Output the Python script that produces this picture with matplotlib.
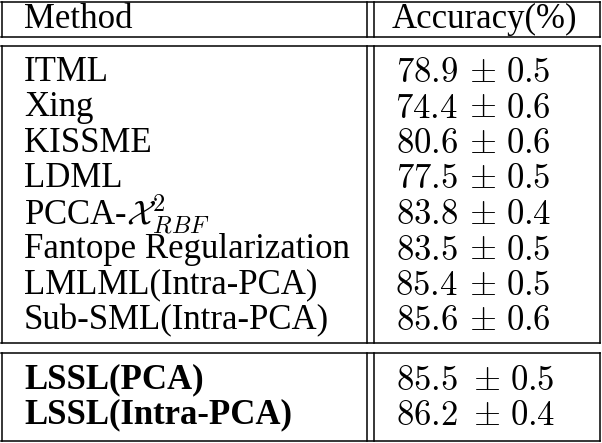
import matplotlib
matplotlib.use("Agg")
import matplotlib.pyplot as plt

methods = ["ITML", "Xing", "KISSME", "LDML", r"PCCA-$\mathcal{X}^2_{RBF}$",
           "Fantope Regularization", "LMLML(Intra-PCA)", "Sub-SML(Intra-PCA)"]
means = ["78.9", "74.4", "80.6", "77.5", "83.8", "83.5", "85.4", "85.6"]
stds = ["0.5", "0.6", "0.6", "0.5", "0.4", "0.5", "0.5", "0.6"]
ours = ["LSSL(PCA)", "LSSL(Intra-PCA)"]
ours_means = ["85.5", "86.2"]
ours_stds = ["0.5", "0.4"]
ours_bold_val = [False, True]

plt.rcParams['mathtext.fontset'] = 'cm'
fig = plt.figure(figsize=(6.02, 4.43), dpi=100)
ax = fig.add_axes([0, 0, 1, 1])
ax.set_xlim(0, 602); ax.set_ylim(443, 0); ax.axis('off')
F = 'Liberation Serif'
fs = 25
lw = 1.1

def hline(y): ax.plot([1, 600], [y, y], color='k', lw=lw)
def vlines(y0, y1):
    for x in (1.5, 367, 374, 600):
        ax.plot([x, x], [y0, y1], color='k', lw=lw)

def num(s, bold):
    return r"$\mathbf{%s}$" % s if bold else r"$%s$" % s

hline(1.5); hline(37); vlines(1.5, 37)
ax.text(24, 19, "Method", fontsize=fs, family=F, va='center')
ax.text(484, 19, "Accuracy(%)", fontsize=fs, family=F, va='center', ha='center')
hline(46); hline(343); vlines(46, 343)
y0, dy = 72, 35.5
for i, (m, mu, sd) in enumerate(zip(methods, means, stds)):
    y = y0 + i * dy
    ax.text(24, y, m, fontsize=fs, family=F, va='center')
    ax.text(458, y, num(mu, False), fontsize=fs, va='center', ha='right')
    ax.text(483, y, r"$\pm$", fontsize=fs, va='center', ha='center')
    ax.text(506, y, num(sd, False), fontsize=fs, va='center', ha='left')
hline(353); hline(441); vlines(353, 441)
for i, (m, mu, sd, b) in enumerate(zip(ours, ours_means, ours_stds, ours_bold_val)):
    y = 380 + i * 35
    ax.text(24, y, m, fontsize=fs, family=F, va='center', weight='bold')
    ax.text(458, y, num(mu, b), fontsize=fs, va='center', ha='right')
    ax.text(487, y, r"$\pm$", fontsize=fs, va='center', ha='center')
    ax.text(510, y, num(sd, b), fontsize=fs, va='center', ha='left')
fig.savefig("out.png", dpi=100)
